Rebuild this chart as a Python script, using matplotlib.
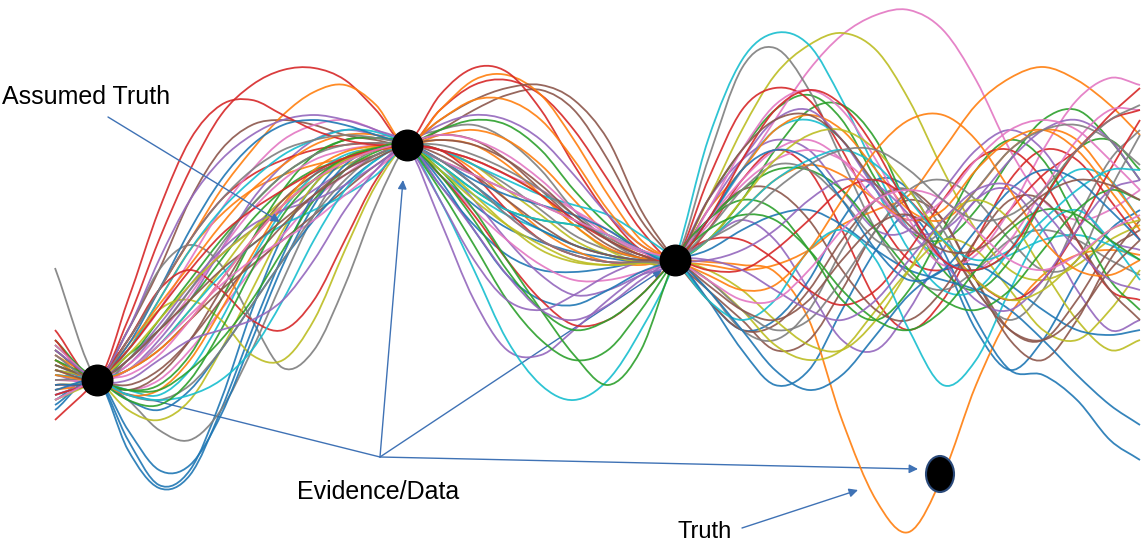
import matplotlib.pyplot as plt
import numpy as np
from matplotlib.path import Path
from matplotlib.patches import PathPatch, Ellipse

# knot positions (pixels from left) shared by all sample curves
knots_x = [55, 97, 128, 159, 190, 221, 252, 283, 314, 345, 376, 407, 440, 474, 507, 541, 574, 608,
           641, 675, 708, 742, 775, 809, 842, 876, 909, 943, 976, 1010, 1043, 1077, 1110, 1140]

# curve heights (pixels from top) at each knot
curves = [
    [400, 380, 440, 485, 470, 400, 310, 235, 185, 158, 148, 145, 175, 205, 228, 242, 252, 258, 262, 260, 300, 350, 385, 370, 310, 250, 215, 260, 330, 370, 340, 280, 230, 210],
    [370, 380, 350, 300, 250, 215, 190, 175, 165, 158, 150, 145, 150, 170, 200, 230, 250, 262, 265, 260, 262, 265, 272, 320, 420, 500, 532, 475, 385, 315, 275, 255, 250, 255],
    [350, 380, 360, 320, 280, 240, 205, 175, 155, 140, 138, 145, 165, 190, 210, 220, 225, 235, 250, 260, 200, 150, 110, 95, 120, 180, 230, 240, 210, 160, 120, 110, 140, 180],
    [330, 380, 320, 240, 170, 115, 85, 70, 68, 80, 110, 145, 110, 85, 80, 95, 130, 180, 230, 260, 230, 180, 150, 170, 230, 300, 330, 300, 240, 180, 150, 160, 200, 240],
    [390, 380, 370, 340, 300, 250, 200, 165, 140, 130, 135, 145, 220, 300, 350, 355, 330, 300, 275, 260, 240, 220, 240, 290, 340, 350, 310, 250, 200, 190, 230, 290, 330, 320],
    [360, 380, 330, 270, 200, 150, 125, 120, 125, 135, 140, 145, 130, 110, 95, 90, 110, 160, 220, 260, 290, 320, 350, 340, 290, 230, 200, 220, 280, 340, 360, 320, 260, 220],
    [380, 380, 390, 380, 350, 310, 270, 235, 200, 175, 155, 145, 160, 185, 215, 240, 255, 262, 263, 260, 220, 170, 120, 70, 35, 15, 10, 30, 80, 150, 200, 220, 210, 190],
    [360, 380, 330, 270, 245, 265, 320, 368, 350, 285, 205, 145, 130, 125, 140, 170, 210, 240, 258, 260, 160, 68, 48, 90, 160, 230, 275, 290, 270, 240, 230, 240, 260, 275],
    [380, 380, 370, 345, 310, 270, 230, 200, 180, 165, 155, 145, 150, 165, 190, 215, 240, 255, 262, 260, 200, 130, 75, 45, 33, 50, 100, 170, 230, 270, 280, 265, 240, 225],
    [370, 380, 390, 395, 370, 320, 260, 210, 175, 155, 148, 145, 200, 270, 340, 385, 400, 380, 330, 260, 140, 60, 33, 45, 100, 170, 230, 260, 270, 255, 240, 235, 245, 260],
    [410, 380, 450, 488, 475, 410, 330, 255, 195, 160, 148, 145, 185, 225, 255, 270, 272, 268, 262, 260, 300, 330, 320, 280, 220, 180, 190, 250, 320, 370, 375, 400, 440, 460],
    [390, 380, 340, 290, 240, 190, 150, 115, 92, 85, 105, 145, 110, 80, 75, 95, 140, 195, 240, 260, 265, 270, 265, 250, 225, 210, 195, 150, 105, 78, 67, 80, 105, 135],
    [340, 380, 355, 330, 300, 260, 220, 190, 170, 160, 150, 145, 130, 120, 125, 150, 190, 225, 250, 260, 240, 200, 150, 110, 105, 140, 210, 270, 290, 260, 200, 150, 140, 170],
    [420, 380, 340, 290, 240, 200, 175, 160, 150, 145, 143, 145, 95, 68, 72, 110, 165, 215, 250, 260, 180, 110, 88, 100, 150, 215, 260, 270, 250, 210, 175, 150, 115, 88],
    [365, 380, 365, 330, 290, 255, 230, 210, 190, 170, 155, 145, 165, 200, 240, 275, 295, 290, 275, 260, 200, 160, 140, 150, 190, 230, 230, 190, 150, 130, 150, 200, 240, 250],
    [375, 380, 390, 375, 340, 290, 240, 200, 175, 160, 150, 145, 120, 100, 88, 85, 100, 140, 210, 260, 300, 330, 325, 290, 240, 200, 190, 220, 280, 330, 340, 300, 250, 230],
    [355, 380, 350, 310, 260, 210, 170, 140, 125, 120, 130, 145, 175, 210, 240, 265, 280, 280, 272, 260, 225, 185, 160, 150, 160, 190, 230, 265, 255, 210, 150, 100, 78, 85],
    [370, 380, 400, 430, 440, 410, 350, 280, 215, 170, 150, 145, 150, 165, 185, 210, 235, 250, 258, 260, 290, 330, 340, 310, 250, 200, 190, 230, 290, 320, 290, 220, 160, 130],
    [385, 380, 350, 310, 300, 320, 355, 360, 320, 250, 185, 145, 150, 160, 175, 195, 225, 250, 262, 260, 280, 310, 345, 360, 350, 310, 270, 240, 250, 290, 330, 340, 310, 270],
    [395, 380, 350, 300, 250, 210, 180, 155, 140, 130, 132, 145, 170, 195, 215, 230, 245, 255, 260, 260, 220, 170, 130, 120, 140, 190, 250, 290, 290, 250, 200, 170, 180, 220],
    [405, 380, 430, 470, 465, 415, 340, 265, 205, 165, 148, 145, 180, 230, 275, 300, 305, 290, 272, 260, 250, 230, 215, 210, 225, 250, 270, 280, 290, 310, 340, 375, 405, 425],
    [360, 380, 345, 305, 265, 225, 190, 165, 145, 135, 135, 145, 135, 130, 140, 165, 200, 235, 255, 260, 210, 170, 130, 115, 130, 170, 210, 220, 190, 150, 130, 140, 180, 220],
    [345, 380, 390, 385, 355, 300, 240, 190, 155, 140, 138, 145, 190, 245, 300, 340, 360, 350, 310, 260, 220, 200, 210, 250, 300, 320, 290, 230, 170, 140, 160, 220, 280, 310],
    [385, 380, 340, 290, 270, 290, 320, 330, 300, 240, 180, 145, 175, 215, 260, 300, 325, 320, 295, 260, 240, 240, 260, 290, 305, 290, 250, 200, 160, 150, 180, 240, 290, 300],
    [375, 380, 330, 260, 200, 160, 135, 120, 115, 120, 130, 145, 200, 260, 300, 310, 295, 275, 262, 260, 210, 160, 120, 110, 140, 190, 230, 230, 200, 160, 130, 120, 140, 180],
    [350, 380, 370, 350, 320, 290, 265, 240, 215, 190, 165, 145, 135, 140, 160, 190, 220, 245, 258, 260, 220, 190, 190, 220, 270, 310, 320, 290, 240, 200, 200, 240, 290, 320],
    [380, 380, 365, 335, 295, 250, 210, 180, 160, 150, 145, 145, 150, 160, 175, 190, 210, 230, 250, 260, 210, 150, 105, 90, 110, 160, 220, 260, 270, 240, 190, 140, 110, 110],
    [268, 380, 360, 330, 290, 245, 205, 175, 155, 145, 143, 145, 160, 175, 190, 205, 220, 238, 252, 260, 280, 310, 330, 320, 280, 230, 190, 180, 200, 240, 270, 260, 190, 135],
    [370, 380, 410, 420, 400, 350, 290, 230, 185, 158, 147, 145, 165, 195, 225, 250, 262, 265, 263, 260, 270, 290, 320, 345, 350, 320, 270, 220, 200, 220, 270, 320, 350, 340],
    [400, 380, 370, 345, 310, 275, 245, 225, 210, 195, 175, 145, 150, 165, 180, 195, 205, 215, 235, 260, 300, 320, 300, 250, 230, 260, 330, 385, 360, 290, 230, 210, 240, 280],
    [390, 380, 400, 410, 390, 350, 305, 260, 220, 185, 160, 145, 160, 185, 210, 230, 245, 255, 260, 260, 290, 330, 370, 390, 375, 335, 295, 270, 265, 285, 310, 330, 335, 330],
    [355, 380, 395, 390, 360, 310, 255, 205, 170, 152, 146, 145, 140, 145, 165, 195, 225, 248, 258, 260, 240, 210, 180, 165, 175, 200, 220, 210, 170, 140, 130, 150, 190, 230],
    [365, 380, 390, 390, 370, 340, 300, 250, 200, 170, 152, 145, 170, 210, 260, 310, 355, 385, 350, 260, 220, 190, 170, 170, 190, 230, 270, 300, 310, 290, 250, 210, 190, 200],
    [340, 380, 300, 210, 140, 105, 100, 115, 130, 140, 145, 145, 150, 175, 210, 240, 255, 262, 262, 260, 270, 270, 250, 220, 190, 180, 200, 240, 280, 300, 280, 230, 170, 120],
    [395, 380, 360, 325, 285, 250, 225, 210, 200, 185, 165, 145, 125, 115, 120, 140, 175, 215, 245, 260, 260, 250, 230, 200, 180, 185, 215, 260, 300, 310, 280, 230, 190, 180],
    [365, 380, 385, 370, 340, 300, 260, 225, 195, 170, 155, 145, 155, 175, 200, 225, 245, 255, 260, 260, 285, 310, 320, 300, 260, 225, 215, 240, 290, 330, 340, 315, 270, 240],
    [345, 380, 370, 345, 315, 285, 260, 240, 220, 195, 170, 145, 135, 140, 155, 180, 210, 235, 252, 260, 220, 180, 150, 140, 160, 200, 220, 200, 160, 130, 120, 130, 160, 190],
    [380, 380, 395, 400, 385, 350, 305, 260, 215, 180, 155, 145, 145, 155, 170, 190, 215, 240, 255, 260, 230, 190, 165, 170, 200, 240, 250, 230, 190, 150, 130, 125, 140, 165],
    [400, 380, 355, 320, 285, 255, 230, 205, 180, 160, 150, 145, 170, 200, 225, 245, 260, 265, 263, 260, 240, 200, 160, 135, 130, 150, 190, 240, 280, 300, 290, 260, 230, 220],
    [375, 380, 395, 400, 395, 380, 350, 300, 240, 190, 160, 145, 165, 190, 210, 220, 225, 235, 250, 260, 240, 210, 180, 160, 150, 165, 200, 240, 260, 250, 220, 190, 170, 170],
    [385, 380, 345, 290, 230, 180, 145, 125, 120, 125, 135, 145, 160, 180, 195, 205, 215, 230, 250, 260, 220, 170, 150, 160, 200, 250, 280, 270, 230, 190, 170, 180, 210, 240],
    [375, 380, 370, 350, 320, 280, 240, 205, 180, 162, 150, 145, 120, 100, 100, 120, 160, 210, 245, 260, 275, 290, 285, 250, 200, 150, 120, 115, 140, 190, 240, 270, 275, 260],
    [360, 380, 400, 405, 380, 330, 270, 215, 180, 158, 148, 145, 175, 220, 270, 310, 330, 320, 295, 260, 230, 215, 220, 250, 290, 320, 330, 310, 270, 230, 210, 215, 240, 260],
    [395, 380, 350, 310, 270, 235, 210, 190, 172, 158, 150, 145, 150, 160, 175, 195, 220, 240, 255, 260, 220, 160, 110, 90, 105, 150, 210, 260, 270, 250, 200, 150, 120, 110],
    [350, 380, 380, 360, 340, 330, 320, 300, 260, 210, 170, 145, 185, 230, 275, 310, 320, 305, 280, 260, 260, 270, 290, 310, 320, 300, 260, 220, 190, 185, 210, 250, 280, 290],
    [370, 380, 360, 330, 300, 270, 245, 220, 195, 175, 158, 145, 140, 145, 160, 185, 215, 240, 255, 260, 200, 150, 120, 115, 140, 185, 225, 250, 250, 225, 195, 180, 185, 200],
    [400, 380, 375, 355, 320, 280, 240, 205, 180, 162, 150, 145, 160, 175, 190, 205, 220, 235, 250, 260, 280, 300, 300, 270, 230, 200, 190, 200, 230, 260, 270, 255, 230, 215],
    [355, 380, 340, 290, 240, 200, 170, 150, 140, 135, 138, 145, 160, 185, 215, 240, 255, 262, 262, 260, 240, 220, 190, 165, 150, 150, 170, 200, 220, 215, 190, 150, 120, 105],
]

# evidence points and the true value
data_x = [97, 407, 675]
data_y = [380, 145, 260]
truth_x, truth_y = 940, 474

colors = plt.cm.tab10.colors


def smooth_path(xs, ys):
    xs = np.asarray(xs, float)
    ys = np.asarray(ys, float)
    m = np.empty_like(ys)
    m[0] = (ys[1] - ys[0]) / (xs[1] - xs[0])
    m[-1] = (ys[-1] - ys[-2]) / (xs[-1] - xs[-2])
    m[1:-1] = (ys[2:] - ys[:-2]) / (xs[2:] - xs[:-2])
    verts = [(xs[0], ys[0])]
    codes = [Path.MOVETO]
    for i in range(len(xs) - 1):
        dx = xs[i + 1] - xs[i]
        verts += [(xs[i] + dx / 3, ys[i] + m[i] * dx / 3),
                  (xs[i + 1] - dx / 3, ys[i + 1] - m[i + 1] * dx / 3),
                  (xs[i + 1], ys[i + 1])]
        codes += [Path.CURVE4] * 3
    return Path(verts, codes)


fig = plt.figure(figsize=(11.44, 5.57), dpi=100)
ax = fig.add_axes([0, 0, 1, 1])
ax.set_xlim(0, 1144)
ax.set_ylim(557, 0)
ax.axis('off')

for k, c in enumerate(curves):
    ax.add_patch(PathPatch(smooth_path(knots_x, c), fill=False,
                           edgecolor=colors[k % 10], lw=1.3, alpha=0.9, zorder=2))

ax.plot(data_x, data_y, 'o', color='black', markersize=22, zorder=3)
ax.add_patch(Ellipse((truth_x, truth_y), 28, 36, facecolor='black',
                     edgecolor='#2b4a7a', lw=1.5, zorder=3))

arrow_col = '#3f72b5'
ev = (380, 457)
for tgt in [(112, 390), (403, 180), (662, 270), (918, 469)]:
    ax.annotate('', xy=tgt, xytext=ev,
                arrowprops=dict(arrowstyle='-|>', color=arrow_col, lw=1.0,
                                mutation_scale=13, shrinkA=0, shrinkB=0), zorder=1)
ax.annotate('', xy=(280, 222), xytext=(108, 117),
            arrowprops=dict(arrowstyle='-|>', color=arrow_col, lw=1.0,
                            mutation_scale=13, shrinkA=0, shrinkB=0), zorder=4)
ax.annotate('', xy=(858, 490), xytext=(742, 528),
            arrowprops=dict(arrowstyle='-|>', color=arrow_col, lw=1.0,
                            mutation_scale=13, shrinkA=0, shrinkB=0), zorder=4)

ax.text(2, 97, 'Assumed Truth', fontsize=18, family='Liberation Sans', va='center', ha='left')
ax.text(297, 492, 'Evidence/Data', fontsize=18, family='Liberation Sans', va='center', ha='left')
ax.text(677, 532, 'Truth', fontsize=17, family='Liberation Sans', va='center', ha='left')

plt.savefig('out.png', dpi=100)
